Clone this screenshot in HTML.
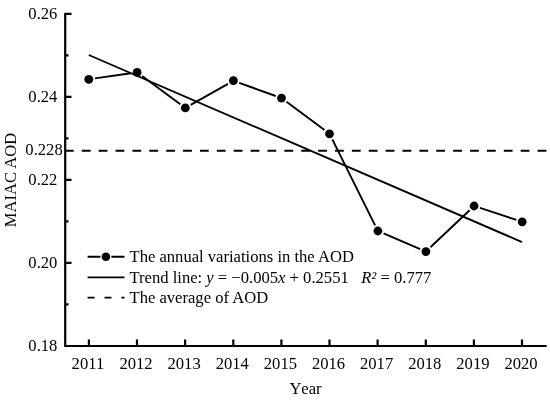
<!DOCTYPE html>
<html><head><meta charset="utf-8">
<style>
html,body{margin:0;padding:0;background:#fff;}
svg{display:block;}
text{font-family:"Liberation Serif",serif;font-size:16.6px;fill:#000;}
.ax{stroke:#000;stroke-width:2.2;fill:none;}
.ln{stroke:#000;stroke-width:1.9;fill:none;}
</style></head>
<body>
<svg width="550" height="402" viewBox="0 0 550 402" xmlns="http://www.w3.org/2000/svg">
<rect width="550" height="402" fill="#fff"/>
<!-- axes -->
<path class="ax" d="M65.2 13 V346 M64.1 346 H546.6"/>
<!-- y major ticks -->
<path class="ax" d="M65 13.8 H71.5 M65 96.8 H71.5 M65 179.8 H71.5 M65 262.8 H71.5"/>
<!-- y minor ticks -->
<path class="ax" d="M65 55.3 H68.5 M65 138.3 H68.5 M65 221.3 H68.5 M65 304.3 H68.5"/>
<!-- x ticks -->
<path class="ax" d="M88.9 346 V339.5 M137 346 V339.5 M185.1 346 V339.5 M233.3 346 V339.5 M281.4 346 V339.5 M329.5 346 V339.5 M377.6 346 V339.5 M425.8 346 V339.5 M473.9 346 V339.5 M522 346 V339.5"/>
<!-- dashed avg -->
<path class="ln" d="M64.9 150.7 H548" stroke-dasharray="8.8 8.08" style="stroke-width:2"/>
<!-- trend -->
<path class="ln" d="M88.8 55 L522.1 242.1"/>
<!-- data -->
<g id="data"><path class="ln" d="M94.9 78.4 L131.0 73.3 M142.1 76.1 L180.3 104.2 M190.7 104.8 L228.0 83.8 M239.2 82.8 L275.7 96.0 M286.5 101.8 L324.5 130.1 M332.3 139.4 L375.1 225.4 M383.6 233.4 L420.2 249.2 M430.4 247.3 L469.6 210.3 M480.0 207.9 L516.3 219.9"/>
<circle cx="88.8" cy="79.3" r="4.4"/>
<circle cx="137.1" cy="72.4" r="4.4"/>
<circle cx="185.3" cy="107.9" r="4.4"/>
<circle cx="233.4" cy="80.7" r="4.4"/>
<circle cx="281.5" cy="98.1" r="4.4"/>
<circle cx="329.5" cy="133.8" r="4.4"/>
<circle cx="377.9" cy="231.0" r="4.4"/>
<circle cx="425.9" cy="251.6" r="4.4"/>
<circle cx="474.1" cy="206.0" r="4.4"/>
<circle cx="522.2" cy="221.8" r="4.4"/></g>
<!-- y labels -->
<g text-anchor="end">
<text x="57.4" y="18.9">0.26</text>
<text x="57.4" y="101.9">0.24</text>
<text x="62.7" y="155.4">0.228</text>
<text x="57.4" y="184.8">0.22</text>
<text x="57.4" y="267.9">0.20</text>
<text x="57.4" y="350.9">0.18</text>
</g>
<g text-anchor="middle">
<text x="87.9" y="369">2011</text>
<text x="136.0" y="369">2012</text>
<text x="184.1" y="369">2013</text>
<text x="232.3" y="369">2014</text>
<text x="280.4" y="369">2015</text>
<text x="328.5" y="369">2016</text>
<text x="376.6" y="369">2017</text>
<text x="424.8" y="369">2018</text>
<text x="472.9" y="369">2019</text>
<text x="521.0" y="369">2020</text>
<text x="305.5" y="394.1" style="font-kerning:none">Year</text>
<text transform="translate(15.8,180) rotate(-90)">MAIAC AOD</text>
</g>
<!-- legend -->
<path class="ln" d="M87.6 256.7 H100.4 M111.4 256.7 H124.5 M87.6 277.4 H124.5"/>
<circle cx="105.9" cy="256.7" r="4.3"/>
<path class="ln" d="M87.6 297.6 H124.5" stroke-dasharray="7 9.9"/>
<text x="129.5" y="262.2">The annual variations in the AOD</text>
<text x="129.5" y="282.5" xml:space="preserve">Trend line: <tspan font-style="italic">y</tspan> = −0.005<tspan font-style="italic">x</tspan> + 0.2551   <tspan font-style="italic">R²</tspan> = 0.777</text>
<text x="129.5" y="303">The average of AOD</text>
</svg>
</body></html>
